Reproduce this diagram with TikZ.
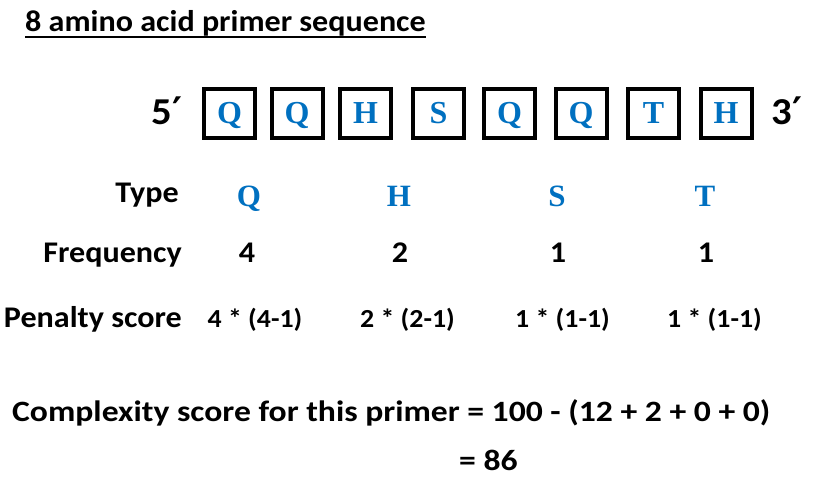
\documentclass[tikz,border=0pt]{standalone}
\usepackage{fontspec}
\setmainfont{Carlito}[FakeStretch=1.07]
\newfontfamily\widefont{Carlito}[FakeStretch=1.14]
\newfontfamily\aafont{Liberation Serif}
\newfontfamily\primefont{DejaVu Sans}
\usetikzlibrary{positioning}
\definecolor{aablue}{HTML}{0070C0}

\begin{document}
\begin{tikzpicture}[x=1pt, y=-1pt,
  lbl/.style={font=\fontsize{30}{36}\selectfont\bfseries, inner sep=0pt},
  wide/.style={font=\widefont\fontsize{29.5}{36}\selectfont\bfseries, inner sep=0pt},
  calc/.style={font=\fontsize{26}{30}\selectfont\bfseries, inner sep=0pt},
  aa/.style={font=\aafont\fontsize{31}{36}\selectfont\bfseries, text=aablue, inner sep=0pt},
  res/.style={draw, line width=4pt, minimum width=51pt, minimum height=49pt,
    inner sep=0pt, text height=21pt, text depth=0pt,
    font=\aafont\fontsize{32}{36}\selectfont\bfseries, text=aablue},
  prime/.style={font=\fontsize{38}{44}\selectfont\bfseries, inner sep=0pt}]
  \useasboundingbox (0,0) rectangle (815,484);

  % Title
  \node[lbl, anchor=base west] (title) at (25,32) {8 amino acid primer sequence};
  \draw[line width=1.6pt] ([yshift=-5pt]title.base west) -- ([yshift=-5pt]title.base east);

  % Sequence 5' -> 3'
  \node[prime, anchor=base] (five) at (167,125) {5{\primefont′}};
  \node[res] (s1) at (229.5,113.5) {Q};
  \node[res] (s2) at (297,113.5) {Q};
  \node[res] (s3) at (365.5,113.5) {H};
  \node[res] (s4) at (438.5,113.5) {S};
  \node[res] (s5) at (509.5,113.5) {Q};
  \node[res] (s6) at (581,113.5) {Q};
  \node[res] (s7) at (653.5,113.5) {T};
  \node[res] (s8) at (726,113.5) {H};
  \node[prime, anchor=base] (three) at (787,125) {3{\primefont′}};

  % Row: type
  \node[lbl, anchor=base east] (type) at (179,203) {Type};
  \node[aa, anchor=base] (tq) at (249,207) {Q};
  \node[aa, anchor=base] (th) at (399,207) {H};
  \node[aa, anchor=base] (ts) at (557,207) {S};
  \node[aa, anchor=base] (tt) at (705,207) {T};

  % Row: frequency
  \node[lbl, anchor=base east] (freq) at (182,262) {Frequency};
  \node[lbl, anchor=base] (fq) at (247,262) {4};
  \node[lbl, anchor=base] (fh) at (400,262) {2};
  \node[lbl, anchor=base] (fs) at (558,262) {1};
  \node[lbl, anchor=base] (ft) at (706,262) {1};

  % Row: penalty
  \node[lbl, anchor=base east] (pen) at (182,327) {Penalty score};
  \node[calc, anchor=base] (pq) at (255,327) {4 * (4-1)};
  \node[calc, anchor=base] (ph) at (407.5,327) {2 * (2-1)};
  \node[calc, anchor=base] (ps) at (562.5,327) {1 * (1-1)};
  \node[calc, anchor=base] (pt) at (714.5,327) {1 * (1-1)};

  % Total
  \node[wide, anchor=base west] (total) at (12,421) {Complexity score for this primer = 100 - (12 + 2 + 0 + 0)};
  \node[wide, anchor=base west] (result) at (459,470) {= 86};
\end{tikzpicture}
\end{document}
